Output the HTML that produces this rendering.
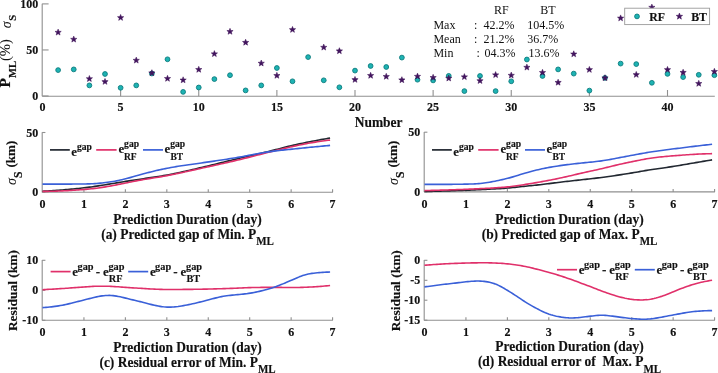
<!DOCTYPE html>
<html><head><meta charset="utf-8"><style>
html,body{margin:0;padding:0;background:#fff;width:718px;height:373px;overflow:hidden}
svg{display:block;filter:blur(0.35px)}
text{font-family:"Liberation Serif", serif;fill:#111;white-space:pre}
text[font-weight="bold"]{stroke:#111;stroke-width:0.15px}
</style></head><body>
<svg width="718" height="373" viewBox="0 0 718 373" xml:space="preserve">
<line x1="42.2" y1="3.8" x2="42.2" y2="96.2" stroke="#8f8f8f" stroke-width="1.1"/>
<line x1="42.2" y1="96.2" x2="714.8" y2="96.2" stroke="#8f8f8f" stroke-width="1.1"/>
<line x1="42.20" y1="96.00" x2="48.60" y2="96.00" stroke="#8f8f8f" stroke-width="1.1"/>
<text x="38.30" y="100.10" font-size="12" font-weight="bold" font-style="normal" text-anchor="end">0</text>
<line x1="42.20" y1="49.95" x2="48.60" y2="49.95" stroke="#8f8f8f" stroke-width="1.1"/>
<text x="38.30" y="54.05" font-size="12" font-weight="bold" font-style="normal" text-anchor="end">50</text>
<line x1="42.20" y1="3.90" x2="48.60" y2="3.90" stroke="#8f8f8f" stroke-width="1.1"/>
<text x="38.30" y="8.00" font-size="12" font-weight="bold" font-style="normal" text-anchor="end">100</text>
<text x="42.50" y="111.30" font-size="12" font-weight="bold" font-style="normal" text-anchor="middle">0</text>
<line x1="120.62" y1="96.20" x2="120.62" y2="90.00" stroke="#8f8f8f" stroke-width="1.1"/>
<text x="120.62" y="111.30" font-size="12" font-weight="bold" font-style="normal" text-anchor="middle">5</text>
<line x1="198.75" y1="96.20" x2="198.75" y2="90.00" stroke="#8f8f8f" stroke-width="1.1"/>
<text x="198.75" y="111.30" font-size="12" font-weight="bold" font-style="normal" text-anchor="middle">10</text>
<line x1="276.88" y1="96.20" x2="276.88" y2="90.00" stroke="#8f8f8f" stroke-width="1.1"/>
<text x="276.88" y="111.30" font-size="12" font-weight="bold" font-style="normal" text-anchor="middle">15</text>
<line x1="355.00" y1="96.20" x2="355.00" y2="90.00" stroke="#8f8f8f" stroke-width="1.1"/>
<text x="355.00" y="111.30" font-size="12" font-weight="bold" font-style="normal" text-anchor="middle">20</text>
<line x1="433.12" y1="96.20" x2="433.12" y2="90.00" stroke="#8f8f8f" stroke-width="1.1"/>
<text x="433.12" y="111.30" font-size="12" font-weight="bold" font-style="normal" text-anchor="middle">25</text>
<line x1="511.25" y1="96.20" x2="511.25" y2="90.00" stroke="#8f8f8f" stroke-width="1.1"/>
<text x="511.25" y="111.30" font-size="12" font-weight="bold" font-style="normal" text-anchor="middle">30</text>
<line x1="589.38" y1="96.20" x2="589.38" y2="90.00" stroke="#8f8f8f" stroke-width="1.1"/>
<text x="589.38" y="111.30" font-size="12" font-weight="bold" font-style="normal" text-anchor="middle">35</text>
<line x1="667.50" y1="96.20" x2="667.50" y2="90.00" stroke="#8f8f8f" stroke-width="1.1"/>
<text x="667.50" y="111.30" font-size="12" font-weight="bold" font-style="normal" text-anchor="middle">40</text>
<text transform="translate(378.6,126.9) scale(1,1.05)" font-size="13.45" font-weight="bold" text-anchor="middle">Number</text>
<circle cx="58.12" cy="70.10" r="2.4" fill="#1eb3b3" stroke="#0b7c7e" stroke-width="0.9"/>
<circle cx="73.75" cy="69.40" r="2.4" fill="#1eb3b3" stroke="#0b7c7e" stroke-width="0.9"/>
<circle cx="89.38" cy="85.40" r="2.4" fill="#1eb3b3" stroke="#0b7c7e" stroke-width="0.9"/>
<circle cx="105.00" cy="74.00" r="2.4" fill="#1eb3b3" stroke="#0b7c7e" stroke-width="0.9"/>
<circle cx="120.62" cy="87.80" r="2.4" fill="#1eb3b3" stroke="#0b7c7e" stroke-width="0.9"/>
<circle cx="136.25" cy="85.40" r="2.4" fill="#1eb3b3" stroke="#0b7c7e" stroke-width="0.9"/>
<circle cx="151.88" cy="73.50" r="2.4" fill="#1eb3b3" stroke="#0b7c7e" stroke-width="0.9"/>
<circle cx="167.50" cy="59.30" r="2.4" fill="#1eb3b3" stroke="#0b7c7e" stroke-width="0.9"/>
<circle cx="183.12" cy="91.90" r="2.4" fill="#1eb3b3" stroke="#0b7c7e" stroke-width="0.9"/>
<circle cx="198.75" cy="87.50" r="2.4" fill="#1eb3b3" stroke="#0b7c7e" stroke-width="0.9"/>
<circle cx="214.38" cy="79.10" r="2.4" fill="#1eb3b3" stroke="#0b7c7e" stroke-width="0.9"/>
<circle cx="230.00" cy="75.20" r="2.4" fill="#1eb3b3" stroke="#0b7c7e" stroke-width="0.9"/>
<circle cx="245.62" cy="90.40" r="2.4" fill="#1eb3b3" stroke="#0b7c7e" stroke-width="0.9"/>
<circle cx="261.25" cy="85.40" r="2.4" fill="#1eb3b3" stroke="#0b7c7e" stroke-width="0.9"/>
<circle cx="276.88" cy="68.00" r="2.4" fill="#1eb3b3" stroke="#0b7c7e" stroke-width="0.9"/>
<circle cx="292.50" cy="81.30" r="2.4" fill="#1eb3b3" stroke="#0b7c7e" stroke-width="0.9"/>
<circle cx="308.12" cy="57.10" r="2.4" fill="#1eb3b3" stroke="#0b7c7e" stroke-width="0.9"/>
<circle cx="323.75" cy="80.30" r="2.4" fill="#1eb3b3" stroke="#0b7c7e" stroke-width="0.9"/>
<circle cx="339.38" cy="87.30" r="2.4" fill="#1eb3b3" stroke="#0b7c7e" stroke-width="0.9"/>
<circle cx="355.00" cy="70.60" r="2.4" fill="#1eb3b3" stroke="#0b7c7e" stroke-width="0.9"/>
<circle cx="370.62" cy="66.00" r="2.4" fill="#1eb3b3" stroke="#0b7c7e" stroke-width="0.9"/>
<circle cx="386.25" cy="67.00" r="2.4" fill="#1eb3b3" stroke="#0b7c7e" stroke-width="0.9"/>
<circle cx="401.88" cy="57.60" r="2.4" fill="#1eb3b3" stroke="#0b7c7e" stroke-width="0.9"/>
<circle cx="417.50" cy="79.70" r="2.4" fill="#1eb3b3" stroke="#0b7c7e" stroke-width="0.9"/>
<circle cx="433.12" cy="80.40" r="2.4" fill="#1eb3b3" stroke="#0b7c7e" stroke-width="0.9"/>
<circle cx="448.75" cy="75.90" r="2.4" fill="#1eb3b3" stroke="#0b7c7e" stroke-width="0.9"/>
<circle cx="464.38" cy="91.10" r="2.4" fill="#1eb3b3" stroke="#0b7c7e" stroke-width="0.9"/>
<circle cx="480.00" cy="76.00" r="2.4" fill="#1eb3b3" stroke="#0b7c7e" stroke-width="0.9"/>
<circle cx="495.62" cy="91.10" r="2.4" fill="#1eb3b3" stroke="#0b7c7e" stroke-width="0.9"/>
<circle cx="511.25" cy="81.30" r="2.4" fill="#1eb3b3" stroke="#0b7c7e" stroke-width="0.9"/>
<circle cx="526.88" cy="59.50" r="2.4" fill="#1eb3b3" stroke="#0b7c7e" stroke-width="0.9"/>
<circle cx="542.50" cy="76.00" r="2.4" fill="#1eb3b3" stroke="#0b7c7e" stroke-width="0.9"/>
<circle cx="558.12" cy="69.40" r="2.4" fill="#1eb3b3" stroke="#0b7c7e" stroke-width="0.9"/>
<circle cx="573.75" cy="73.60" r="2.4" fill="#1eb3b3" stroke="#0b7c7e" stroke-width="0.9"/>
<circle cx="589.38" cy="90.60" r="2.4" fill="#1eb3b3" stroke="#0b7c7e" stroke-width="0.9"/>
<circle cx="605.00" cy="77.90" r="2.4" fill="#1eb3b3" stroke="#0b7c7e" stroke-width="0.9"/>
<circle cx="620.62" cy="63.60" r="2.4" fill="#1eb3b3" stroke="#0b7c7e" stroke-width="0.9"/>
<circle cx="636.25" cy="64.10" r="2.4" fill="#1eb3b3" stroke="#0b7c7e" stroke-width="0.9"/>
<circle cx="651.88" cy="82.80" r="2.4" fill="#1eb3b3" stroke="#0b7c7e" stroke-width="0.9"/>
<circle cx="667.50" cy="73.90" r="2.4" fill="#1eb3b3" stroke="#0b7c7e" stroke-width="0.9"/>
<circle cx="683.12" cy="77.10" r="2.4" fill="#1eb3b3" stroke="#0b7c7e" stroke-width="0.9"/>
<circle cx="698.75" cy="74.80" r="2.4" fill="#1eb3b3" stroke="#0b7c7e" stroke-width="0.9"/>
<circle cx="714.38" cy="75.20" r="2.4" fill="#1eb3b3" stroke="#0b7c7e" stroke-width="0.9"/>
<polygon points="58.12,29.10 58.96,31.25 61.26,31.38 59.48,32.84 60.06,35.07 58.12,33.82 56.19,35.07 56.77,32.84 54.99,31.38 57.29,31.25" fill="#43155f" stroke="#3a0e55" stroke-width="0.5"/>
<polygon points="73.75,36.10 74.58,38.25 76.89,38.38 75.10,39.84 75.69,42.07 73.75,40.82 71.81,42.07 72.40,39.84 70.61,38.38 72.92,38.25" fill="#43155f" stroke="#3a0e55" stroke-width="0.5"/>
<polygon points="89.38,75.50 90.21,77.65 92.51,77.78 90.73,79.24 91.31,81.47 89.38,80.22 87.44,81.47 88.02,79.24 86.24,77.78 88.54,77.65" fill="#43155f" stroke="#3a0e55" stroke-width="0.5"/>
<polygon points="105.00,78.40 105.83,80.55 108.14,80.68 106.35,82.14 106.94,84.37 105.00,83.12 103.06,84.37 103.65,82.14 101.86,80.68 104.17,80.55" fill="#43155f" stroke="#3a0e55" stroke-width="0.5"/>
<polygon points="120.62,14.40 121.46,16.55 123.76,16.68 121.98,18.14 122.56,20.37 120.62,19.12 118.69,20.37 119.27,18.14 117.49,16.68 119.79,16.55" fill="#43155f" stroke="#3a0e55" stroke-width="0.5"/>
<polygon points="136.25,57.10 137.08,59.25 139.39,59.38 137.60,60.84 138.19,63.07 136.25,61.82 134.31,63.07 134.90,60.84 133.11,59.38 135.42,59.25" fill="#43155f" stroke="#3a0e55" stroke-width="0.5"/>
<polygon points="151.88,69.70 152.71,71.85 155.01,71.98 153.23,73.44 153.81,75.67 151.88,74.42 149.94,75.67 150.52,73.44 148.74,71.98 151.04,71.85" fill="#43155f" stroke="#3a0e55" stroke-width="0.5"/>
<polygon points="167.50,75.30 168.33,77.45 170.64,77.58 168.85,79.04 169.44,81.27 167.50,80.02 165.56,81.27 166.15,79.04 164.36,77.58 166.67,77.45" fill="#43155f" stroke="#3a0e55" stroke-width="0.5"/>
<polygon points="183.12,76.80 183.96,78.95 186.26,79.08 184.48,80.54 185.06,82.77 183.12,81.52 181.19,82.77 181.77,80.54 179.99,79.08 182.29,78.95" fill="#43155f" stroke="#3a0e55" stroke-width="0.5"/>
<polygon points="198.75,66.30 199.58,68.45 201.89,68.58 200.10,70.04 200.69,72.27 198.75,71.02 196.81,72.27 197.40,70.04 195.61,68.58 197.92,68.45" fill="#43155f" stroke="#3a0e55" stroke-width="0.5"/>
<polygon points="214.38,50.60 215.21,52.75 217.51,52.88 215.73,54.34 216.31,56.57 214.38,55.32 212.44,56.57 213.02,54.34 211.24,52.88 213.54,52.75" fill="#43155f" stroke="#3a0e55" stroke-width="0.5"/>
<polygon points="230.00,28.30 230.83,30.45 233.14,30.58 231.35,32.04 231.94,34.27 230.00,33.02 228.06,34.27 228.65,32.04 226.86,30.58 229.17,30.45" fill="#43155f" stroke="#3a0e55" stroke-width="0.5"/>
<polygon points="245.62,39.20 246.46,41.35 248.76,41.48 246.98,42.94 247.56,45.17 245.62,43.92 243.69,45.17 244.27,42.94 242.49,41.48 244.79,41.35" fill="#43155f" stroke="#3a0e55" stroke-width="0.5"/>
<polygon points="261.25,60.00 262.08,62.15 264.39,62.28 262.60,63.74 263.19,65.97 261.25,64.72 259.31,65.97 259.90,63.74 258.11,62.28 260.42,62.15" fill="#43155f" stroke="#3a0e55" stroke-width="0.5"/>
<polygon points="276.88,72.30 277.71,74.45 280.01,74.58 278.23,76.04 278.81,78.27 276.88,77.02 274.94,78.27 275.52,76.04 273.74,74.58 276.04,74.45" fill="#43155f" stroke="#3a0e55" stroke-width="0.5"/>
<polygon points="292.50,26.40 293.33,28.55 295.64,28.68 293.85,30.14 294.44,32.37 292.50,31.12 290.56,32.37 291.15,30.14 289.36,28.68 291.67,28.55" fill="#43155f" stroke="#3a0e55" stroke-width="0.5"/>
<polygon points="323.75,44.10 324.58,46.25 326.89,46.38 325.10,47.84 325.69,50.07 323.75,48.82 321.81,50.07 322.40,47.84 320.61,46.38 322.92,46.25" fill="#43155f" stroke="#3a0e55" stroke-width="0.5"/>
<polygon points="339.38,47.70 340.21,49.85 342.51,49.98 340.73,51.44 341.31,53.67 339.38,52.42 337.44,53.67 338.02,51.44 336.24,49.98 338.54,49.85" fill="#43155f" stroke="#3a0e55" stroke-width="0.5"/>
<polygon points="355.00,76.40 355.83,78.55 358.14,78.68 356.35,80.14 356.94,82.37 355.00,81.12 353.06,82.37 353.65,80.14 351.86,78.68 354.17,78.55" fill="#43155f" stroke="#3a0e55" stroke-width="0.5"/>
<polygon points="370.62,72.30 371.46,74.45 373.76,74.58 371.98,76.04 372.56,78.27 370.62,77.02 368.69,78.27 369.27,76.04 367.49,74.58 369.79,74.45" fill="#43155f" stroke="#3a0e55" stroke-width="0.5"/>
<polygon points="386.25,73.30 387.08,75.45 389.39,75.58 387.60,77.04 388.19,79.27 386.25,78.02 384.31,79.27 384.90,77.04 383.11,75.58 385.42,75.45" fill="#43155f" stroke="#3a0e55" stroke-width="0.5"/>
<polygon points="401.88,76.70 402.71,78.85 405.01,78.98 403.23,80.44 403.81,82.67 401.88,81.42 399.94,82.67 400.52,80.44 398.74,78.98 401.04,78.85" fill="#43155f" stroke="#3a0e55" stroke-width="0.5"/>
<polygon points="417.50,73.10 418.33,75.25 420.64,75.38 418.85,76.84 419.44,79.07 417.50,77.82 415.56,79.07 416.15,76.84 414.36,75.38 416.67,75.25" fill="#43155f" stroke="#3a0e55" stroke-width="0.5"/>
<polygon points="433.12,74.30 433.96,76.45 436.26,76.58 434.48,78.04 435.06,80.27 433.12,79.02 431.19,80.27 431.77,78.04 429.99,76.58 432.29,76.45" fill="#43155f" stroke="#3a0e55" stroke-width="0.5"/>
<polygon points="448.75,75.00 449.58,77.15 451.89,77.28 450.10,78.74 450.69,80.97 448.75,79.72 446.81,80.97 447.40,78.74 445.61,77.28 447.92,77.15" fill="#43155f" stroke="#3a0e55" stroke-width="0.5"/>
<polygon points="464.38,73.60 465.21,75.75 467.51,75.88 465.73,77.34 466.31,79.57 464.38,78.32 462.44,79.57 463.02,77.34 461.24,75.88 463.54,75.75" fill="#43155f" stroke="#3a0e55" stroke-width="0.5"/>
<polygon points="480.00,77.50 480.83,79.65 483.14,79.78 481.35,81.24 481.94,83.47 480.00,82.22 478.06,83.47 478.65,81.24 476.86,79.78 479.17,79.65" fill="#43155f" stroke="#3a0e55" stroke-width="0.5"/>
<polygon points="495.62,71.60 496.46,73.75 498.76,73.88 496.98,75.34 497.56,77.57 495.62,76.32 493.69,77.57 494.27,75.34 492.49,73.88 494.79,73.75" fill="#43155f" stroke="#3a0e55" stroke-width="0.5"/>
<polygon points="511.25,72.10 512.08,74.25 514.39,74.38 512.60,75.84 513.19,78.07 511.25,76.82 509.31,78.07 509.90,75.84 508.11,74.38 510.42,74.25" fill="#43155f" stroke="#3a0e55" stroke-width="0.5"/>
<polygon points="526.88,64.10 527.71,66.25 530.01,66.38 528.23,67.84 528.81,70.07 526.88,68.82 524.94,70.07 525.52,67.84 523.74,66.38 526.04,66.25" fill="#43155f" stroke="#3a0e55" stroke-width="0.5"/>
<polygon points="542.50,69.30 543.33,71.45 545.64,71.58 543.85,73.04 544.44,75.27 542.50,74.02 540.56,75.27 541.15,73.04 539.36,71.58 541.67,71.45" fill="#43155f" stroke="#3a0e55" stroke-width="0.5"/>
<polygon points="558.12,79.20 558.96,81.35 561.26,81.48 559.48,82.94 560.06,85.17 558.12,83.92 556.19,85.17 556.77,82.94 554.99,81.48 557.29,81.35" fill="#43155f" stroke="#3a0e55" stroke-width="0.5"/>
<polygon points="573.75,50.80 574.58,52.95 576.89,53.08 575.10,54.54 575.69,56.77 573.75,55.52 571.81,56.77 572.40,54.54 570.61,53.08 572.92,52.95" fill="#43155f" stroke="#3a0e55" stroke-width="0.5"/>
<polygon points="589.38,66.40 590.21,68.55 592.51,68.68 590.73,70.14 591.31,72.37 589.38,71.12 587.44,72.37 588.02,70.14 586.24,68.68 588.54,68.55" fill="#43155f" stroke="#3a0e55" stroke-width="0.5"/>
<polygon points="605.00,74.70 605.83,76.85 608.14,76.98 606.35,78.44 606.94,80.67 605.00,79.42 603.06,80.67 603.65,78.44 601.86,76.98 604.17,76.85" fill="#43155f" stroke="#3a0e55" stroke-width="0.5"/>
<polygon points="620.62,14.90 621.46,17.05 623.76,17.18 621.98,18.64 622.56,20.87 620.62,19.62 618.69,20.87 619.27,18.64 617.49,17.18 619.79,17.05" fill="#43155f" stroke="#3a0e55" stroke-width="0.5"/>
<polygon points="636.25,71.40 637.08,73.55 639.39,73.68 637.60,75.14 638.19,77.37 636.25,76.12 634.31,77.37 634.90,75.14 633.11,73.68 635.42,73.55" fill="#43155f" stroke="#3a0e55" stroke-width="0.5"/>
<polygon points="651.88,4.10 652.71,6.25 655.01,6.38 653.23,7.84 653.81,10.07 651.88,8.82 649.94,10.07 650.52,7.84 648.74,6.38 651.04,6.25" fill="#43155f" stroke="#3a0e55" stroke-width="0.5"/>
<polygon points="667.50,66.40 668.33,68.55 670.64,68.68 668.85,70.14 669.44,72.37 667.50,71.12 665.56,72.37 666.15,70.14 664.36,68.68 666.67,68.55" fill="#43155f" stroke="#3a0e55" stroke-width="0.5"/>
<polygon points="683.12,69.20 683.96,71.35 686.26,71.48 684.48,72.94 685.06,75.17 683.12,73.92 681.19,75.17 681.77,72.94 679.99,71.48 682.29,71.35" fill="#43155f" stroke="#3a0e55" stroke-width="0.5"/>
<polygon points="698.75,80.30 699.58,82.45 701.89,82.58 700.10,84.04 700.69,86.27 698.75,85.02 696.81,86.27 697.40,84.04 695.61,82.58 697.92,82.45" fill="#43155f" stroke="#3a0e55" stroke-width="0.5"/>
<polygon points="714.38,68.30 715.21,70.45 717.51,70.58 715.73,72.04 716.31,74.27 714.38,73.02 712.44,74.27 713.02,72.04 711.24,70.58 713.54,70.45" fill="#43155f" stroke="#3a0e55" stroke-width="0.5"/>
<rect x="624.7" y="8.2" width="84.9" height="16.4" fill="#fff" stroke="#9a9a9a" stroke-width="0.9"/>
<circle cx="637" cy="16.4" r="2.4" fill="#1eb3b3" stroke="#0b7c7e" stroke-width="0.9"/>
<text x="649.30" y="20.60" font-size="11.8" font-weight="bold" font-style="normal" text-anchor="start">RF</text>
<polygon points="679.40,13.00 680.25,15.23 682.63,15.35 680.78,16.85 681.40,19.15 679.40,17.85 677.40,19.15 678.02,16.85 676.17,15.35 678.55,15.23" fill="#43155f" stroke="#3a0e55" stroke-width="0.5"/>
<text x="691.20" y="20.60" font-size="11.8" font-weight="bold" font-style="normal" text-anchor="start">BT</text>
<text x="494.00" y="14.40" font-size="12" font-weight="normal" font-style="normal" text-anchor="start">RF</text>
<text x="540.30" y="14.40" font-size="12" font-weight="normal" font-style="normal" text-anchor="start">BT</text>
<text x="433.40" y="28.90" font-size="12" font-weight="normal" font-style="normal" text-anchor="start">Max</text>
<text x="474.00" y="28.90" font-size="12" font-weight="normal" font-style="normal" text-anchor="start">:</text>
<text x="483.50" y="28.90" font-size="12" font-weight="normal" font-style="normal" text-anchor="start">42.2%</text>
<text x="527.20" y="28.90" font-size="12" font-weight="normal" font-style="normal" text-anchor="start">104.5%</text>
<text x="433.40" y="42.80" font-size="12" font-weight="normal" font-style="normal" text-anchor="start">Mean</text>
<text x="474.00" y="42.80" font-size="12" font-weight="normal" font-style="normal" text-anchor="start">:</text>
<text x="483.50" y="42.80" font-size="12" font-weight="normal" font-style="normal" text-anchor="start">21.2%</text>
<text x="527.20" y="42.80" font-size="12" font-weight="normal" font-style="normal" text-anchor="start">36.7%</text>
<text x="433.40" y="56.70" font-size="12" font-weight="normal" font-style="normal" text-anchor="start">Min</text>
<text x="476.50" y="56.70" font-size="12" font-weight="normal" font-style="normal" text-anchor="start">:</text>
<text x="484.40" y="56.70" font-size="12" font-weight="normal" font-style="normal" text-anchor="start">04.3%</text>
<text x="528.60" y="56.70" font-size="12" font-weight="normal" font-style="normal" text-anchor="start">13.6%</text>
<text transform="translate(9.90,87.40) rotate(-90)" font-size="15.3" font-weight="bold" font-style="normal" text-anchor="start">P</text>
<text transform="translate(15.90,78.10) rotate(-90)" font-size="10.6" font-weight="bold" font-style="normal" text-anchor="start">ML</text>
<text transform="translate(9.60,61.00) rotate(-90)" font-size="14.6" font-weight="normal" font-style="normal" text-anchor="start">(%)</text>
<text transform="translate(10.80,28.20) rotate(-90)" font-size="14" font-weight="normal" font-style="italic" text-anchor="start">σ</text>
<text transform="translate(16.20,20.80) rotate(-90)" font-size="10.5" font-weight="bold" font-style="normal" text-anchor="start">S</text>
<line x1="42.20" y1="132.20" x2="42.20" y2="192.50" stroke="#8f8f8f" stroke-width="1.1"/>
<line x1="42.20" y1="192.30" x2="332.88" y2="192.30" stroke="#8f8f8f" stroke-width="1.1"/>
<line x1="42.20" y1="132.50" x2="45.40" y2="132.50" stroke="#8f8f8f" stroke-width="1.1"/>
<text x="38.20" y="136.60" font-size="12" font-weight="bold" font-style="normal" text-anchor="end">50</text>
<line x1="42.20" y1="192.30" x2="45.40" y2="192.30" stroke="#8f8f8f" stroke-width="1.1"/>
<text x="38.20" y="196.40" font-size="12" font-weight="bold" font-style="normal" text-anchor="end">0</text>
<text x="42.50" y="207.60" font-size="12" font-weight="bold" font-style="normal" text-anchor="middle">0</text>
<line x1="83.94" y1="192.30" x2="83.94" y2="189.30" stroke="#8f8f8f" stroke-width="1.1"/>
<text x="83.94" y="207.60" font-size="12" font-weight="bold" font-style="normal" text-anchor="middle">1</text>
<line x1="125.38" y1="192.30" x2="125.38" y2="189.30" stroke="#8f8f8f" stroke-width="1.1"/>
<text x="125.38" y="207.60" font-size="12" font-weight="bold" font-style="normal" text-anchor="middle">2</text>
<line x1="166.82" y1="192.30" x2="166.82" y2="189.30" stroke="#8f8f8f" stroke-width="1.1"/>
<text x="166.82" y="207.60" font-size="12" font-weight="bold" font-style="normal" text-anchor="middle">3</text>
<line x1="208.26" y1="192.30" x2="208.26" y2="189.30" stroke="#8f8f8f" stroke-width="1.1"/>
<text x="208.26" y="207.60" font-size="12" font-weight="bold" font-style="normal" text-anchor="middle">4</text>
<line x1="249.70" y1="192.30" x2="249.70" y2="189.30" stroke="#8f8f8f" stroke-width="1.1"/>
<text x="249.70" y="207.60" font-size="12" font-weight="bold" font-style="normal" text-anchor="middle">5</text>
<line x1="291.14" y1="192.30" x2="291.14" y2="189.30" stroke="#8f8f8f" stroke-width="1.1"/>
<text x="291.14" y="207.60" font-size="12" font-weight="bold" font-style="normal" text-anchor="middle">6</text>
<line x1="332.58" y1="192.30" x2="332.58" y2="189.30" stroke="#8f8f8f" stroke-width="1.1"/>
<text x="332.58" y="207.60" font-size="12" font-weight="bold" font-style="normal" text-anchor="middle">7</text>
<text transform="translate(187.54,223.50) scale(1,1.05)" font-size="13.45" font-weight="bold" text-anchor="middle">Prediction Duration (day)</text>
<text transform="translate(187.54,238.50) scale(1,1.05)" font-size="13.45" font-weight="bold" text-anchor="middle">(a) Predicted gap of Min. P<tspan font-size="11" dy="6.0">ML</tspan></text>
<polyline points="42.50,191.18 44.23,191.10 45.95,191.02 47.68,190.94 49.70,190.83 51.42,190.73 53.15,190.62 54.88,190.51 56.89,190.37 58.62,190.25 60.35,190.12 62.36,189.96 64.09,189.81 65.82,189.66 67.55,189.51 69.56,189.32 71.29,189.16 73.02,188.99 75.03,188.79 76.76,188.61 78.49,188.43 80.21,188.24 82.23,188.01 83.95,187.81 85.68,187.61 87.70,187.36 89.42,187.14 91.15,186.92 92.88,186.68 94.89,186.39 96.62,186.14 98.35,185.88 100.36,185.56 102.09,185.28 103.82,185.00 105.55,184.72 107.56,184.38 109.29,184.09 111.02,183.80 113.03,183.46 114.76,183.17 116.49,182.89 118.21,182.61 120.23,182.28 121.96,182.00 123.68,181.72 125.70,181.40 127.43,181.13 129.15,180.86 130.88,180.59 132.89,180.28 134.62,180.02 136.35,179.76 138.36,179.45 140.09,179.20 141.82,178.94 143.55,178.69 145.56,178.40 147.29,178.14 149.02,177.89 150.74,177.64 152.76,177.34 154.49,177.08 156.21,176.82 158.23,176.51 159.96,176.24 161.68,175.95 163.41,175.66 165.43,175.31 167.15,175.00 168.88,174.69 170.90,174.30 172.62,173.96 174.35,173.61 176.08,173.25 178.09,172.83 179.82,172.45 181.55,172.07 183.56,171.63 185.29,171.24 187.02,170.85 188.74,170.45 190.76,169.99 192.49,169.59 194.21,169.19 196.23,168.72 197.96,168.31 199.68,167.90 201.41,167.49 203.43,167.01 205.15,166.60 206.88,166.18 208.90,165.69 210.62,165.27 212.35,164.85 214.08,164.43 216.09,163.94 217.82,163.52 219.55,163.10 221.56,162.60 223.29,162.18 225.02,161.76 226.74,161.34 228.76,160.85 230.49,160.43 232.21,160.02 234.23,159.53 235.96,159.12 237.68,158.71 239.41,158.31 241.43,157.83 243.15,157.43 244.88,157.03 246.61,156.63 248.62,156.17 250.35,155.77 252.08,155.37 254.09,154.91 255.82,154.51 257.55,154.11 259.27,153.71 261.29,153.23 263.02,152.82 264.74,152.40 266.76,151.91 268.49,151.48 270.21,151.04 271.94,150.60 273.96,150.08 275.68,149.64 277.41,149.19 279.43,148.66 281.15,148.21 282.88,147.77 284.61,147.33 286.62,146.82 288.35,146.40 290.08,145.98 292.09,145.50 293.82,145.10 295.55,144.71 297.28,144.33 299.29,143.90 301.02,143.53 302.74,143.17 304.76,142.75 306.49,142.40 308.21,142.06 309.94,141.72 311.96,141.33 313.68,141.00 315.41,140.67 317.43,140.29 319.15,139.97 320.88,139.66 322.61,139.34 324.62,138.98 326.35,138.68 328.08,138.37 330.09,138.02" fill="none" stroke="#222831" stroke-width="1.6" stroke-linejoin="round" stroke-linecap="butt"/>
<polyline points="42.50,191.42 44.23,191.40 45.95,191.38 47.68,191.35 49.70,191.31 51.42,191.27 53.15,191.23 54.88,191.18 56.89,191.11 58.62,191.04 60.35,190.97 62.36,190.88 64.09,190.80 65.82,190.71 67.55,190.62 69.56,190.50 71.29,190.40 73.02,190.29 75.03,190.16 76.76,190.04 78.49,189.92 80.21,189.79 82.23,189.64 83.95,189.50 85.68,189.35 87.70,189.17 89.42,189.00 91.15,188.82 92.88,188.63 94.89,188.40 96.62,188.18 98.35,187.95 100.36,187.66 102.09,187.40 103.82,187.13 105.55,186.85 107.56,186.51 109.29,186.21 111.02,185.90 113.03,185.53 114.76,185.21 116.49,184.87 118.21,184.54 120.23,184.13 121.96,183.78 123.68,183.43 125.70,183.01 127.43,182.66 129.15,182.30 130.88,181.95 132.89,181.54 134.62,181.20 136.35,180.87 138.36,180.49 140.09,180.18 141.82,179.87 143.55,179.57 145.56,179.23 147.29,178.95 149.02,178.66 150.74,178.39 152.76,178.06 154.49,177.79 156.21,177.51 158.23,177.18 159.96,176.89 161.68,176.59 163.41,176.29 165.43,175.93 167.15,175.61 168.88,175.28 170.90,174.89 172.62,174.54 174.35,174.19 176.08,173.83 178.09,173.40 179.82,173.03 181.55,172.66 183.56,172.21 185.29,171.83 187.02,171.45 188.74,171.07 190.76,170.63 192.49,170.24 194.21,169.86 196.23,169.42 197.96,169.04 199.68,168.66 201.41,168.28 203.43,167.84 205.15,167.46 206.88,167.08 208.90,166.64 210.62,166.26 212.35,165.87 214.08,165.49 216.09,165.04 217.82,164.66 219.55,164.27 221.56,163.82 223.29,163.43 225.02,163.04 226.74,162.64 228.76,162.18 230.49,161.78 232.21,161.38 234.23,160.90 235.96,160.49 237.68,160.08 239.41,159.66 241.43,159.17 243.15,158.75 244.88,158.32 246.61,157.89 248.62,157.38 250.35,156.95 252.08,156.51 254.09,155.99 255.82,155.55 257.55,155.10 259.27,154.66 261.29,154.14 263.02,153.70 264.74,153.26 266.76,152.75 268.49,152.31 270.21,151.88 271.94,151.45 273.96,150.95 275.68,150.52 277.41,150.10 279.43,149.61 281.15,149.19 282.88,148.78 284.61,148.37 286.62,147.89 288.35,147.49 290.08,147.09 292.09,146.64 293.82,146.25 295.55,145.87 297.28,145.50 299.29,145.07 301.02,144.71 302.74,144.36 304.76,143.97 306.49,143.64 308.21,143.32 309.94,143.01 311.96,142.66 313.68,142.37 315.41,142.10 317.43,141.78 319.15,141.53 320.88,141.28 322.61,141.04 324.62,140.77 326.35,140.55 328.08,140.33 330.09,140.09" fill="none" stroke="#e0306a" stroke-width="1.6" stroke-linejoin="round" stroke-linecap="butt"/>
<polyline points="42.50,184.17 44.23,184.16 45.95,184.16 47.68,184.16 49.70,184.16 51.42,184.16 53.15,184.15 54.88,184.15 56.89,184.14 58.62,184.14 60.35,184.13 62.36,184.12 64.09,184.12 65.82,184.11 67.55,184.10 69.56,184.09 71.29,184.08 73.02,184.07 75.03,184.05 76.76,184.04 78.49,184.03 80.21,184.01 82.23,183.99 83.95,183.96 85.68,183.93 87.70,183.89 89.42,183.84 91.15,183.78 92.88,183.70 94.89,183.59 96.62,183.47 98.35,183.33 100.36,183.15 102.09,182.98 103.82,182.78 105.55,182.57 107.56,182.31 109.29,182.06 111.02,181.80 113.03,181.48 114.76,181.18 116.49,180.86 118.21,180.52 120.23,180.09 121.96,179.70 123.68,179.29 125.70,178.79 127.43,178.33 129.15,177.87 130.88,177.39 132.89,176.83 134.62,176.34 136.35,175.85 138.36,175.29 140.09,174.80 141.82,174.32 143.55,173.84 145.56,173.29 147.29,172.82 149.02,172.37 150.74,171.92 152.76,171.41 154.49,170.99 156.21,170.59 158.23,170.13 159.96,169.75 161.68,169.38 163.41,169.02 165.43,168.61 167.15,168.26 168.88,167.93 170.90,167.54 172.62,167.23 174.35,166.92 176.08,166.62 178.09,166.28 179.82,166.01 181.55,165.74 183.56,165.44 185.29,165.20 187.02,164.95 188.74,164.71 190.76,164.43 192.49,164.19 194.21,163.95 196.23,163.67 197.96,163.43 199.68,163.19 201.41,162.94 203.43,162.65 205.15,162.41 206.88,162.16 208.90,161.86 210.62,161.61 212.35,161.36 214.08,161.10 216.09,160.80 217.82,160.54 219.55,160.28 221.56,159.97 223.29,159.71 225.02,159.44 226.74,159.17 228.76,158.85 230.49,158.58 232.21,158.30 234.23,157.97 235.96,157.68 237.68,157.39 239.41,157.09 241.43,156.74 243.15,156.43 244.88,156.11 246.61,155.79 248.62,155.40 250.35,155.07 252.08,154.74 254.09,154.35 255.82,154.02 257.55,153.69 259.27,153.37 261.29,153.01 263.02,152.71 264.74,152.42 266.76,152.10 268.49,151.85 270.21,151.60 271.94,151.37 273.96,151.11 275.68,150.90 277.41,150.70 279.43,150.47 281.15,150.28 282.88,150.09 284.61,149.91 286.62,149.70 288.35,149.52 290.08,149.34 292.09,149.13 293.82,148.95 295.55,148.78 297.28,148.60 299.29,148.39 301.02,148.22 302.74,148.04 304.76,147.84 306.49,147.67 308.21,147.49 309.94,147.32 311.96,147.13 313.68,146.96 315.41,146.79 317.43,146.60 319.15,146.44 320.88,146.27 322.61,146.11 324.62,145.92 326.35,145.76 328.08,145.61 330.09,145.42" fill="none" stroke="#3a60d8" stroke-width="1.6" stroke-linejoin="round" stroke-linecap="butt"/>
<line x1="50.00" y1="149.90" x2="69.80" y2="149.90" stroke="#222831" stroke-width="1.7"/>
<text x="71.30" y="155.80" font-size="12.8" font-weight="bold" font-style="normal" text-anchor="start">e</text>
<text x="76.90" y="150.20" font-size="9.6" font-weight="bold" font-style="normal" text-anchor="start">gap</text>
<line x1="96.20" y1="149.90" x2="116.60" y2="149.90" stroke="#e0306a" stroke-width="1.7"/>
<text x="118.60" y="152.90" font-size="12.8" font-weight="bold" font-style="normal" text-anchor="start">e</text>
<text x="124.10" y="146.90" font-size="9.6" font-weight="bold" font-style="normal" text-anchor="start">gap</text>
<text x="124.00" y="159.60" font-size="9.5" font-weight="bold" font-style="normal" text-anchor="start">RF</text>
<line x1="143.00" y1="149.90" x2="163.00" y2="149.90" stroke="#3a60d8" stroke-width="1.7"/>
<text x="164.60" y="152.90" font-size="12.8" font-weight="bold" font-style="normal" text-anchor="start">e</text>
<text x="170.20" y="146.90" font-size="9.6" font-weight="bold" font-style="normal" text-anchor="start">gap</text>
<text x="170.50" y="159.80" font-size="9.5" font-weight="bold" font-style="normal" text-anchor="start">BT</text>
<text transform="translate(15.90,184.90) rotate(-90)" font-size="14" font-weight="normal" font-style="italic" text-anchor="start">σ</text>
<text transform="translate(22.30,178.00) rotate(-90)" font-size="11.5" font-weight="bold" font-style="normal" text-anchor="start">S</text>
<text transform="translate(15.30,167.60) rotate(-90)" font-size="13.1" font-weight="bold" font-style="normal" text-anchor="start">(km)</text>
<line x1="424.20" y1="131.90" x2="424.20" y2="192.10" stroke="#8f8f8f" stroke-width="1.1"/>
<line x1="424.20" y1="191.90" x2="714.88" y2="191.90" stroke="#8f8f8f" stroke-width="1.1"/>
<line x1="424.20" y1="132.20" x2="427.40" y2="132.20" stroke="#8f8f8f" stroke-width="1.1"/>
<text x="420.20" y="136.30" font-size="12" font-weight="bold" font-style="normal" text-anchor="end">50</text>
<line x1="424.20" y1="191.90" x2="427.40" y2="191.90" stroke="#8f8f8f" stroke-width="1.1"/>
<text x="420.20" y="196.00" font-size="12" font-weight="bold" font-style="normal" text-anchor="end">0</text>
<text x="424.50" y="207.60" font-size="12" font-weight="bold" font-style="normal" text-anchor="middle">0</text>
<line x1="465.94" y1="191.90" x2="465.94" y2="188.90" stroke="#8f8f8f" stroke-width="1.1"/>
<text x="465.94" y="207.60" font-size="12" font-weight="bold" font-style="normal" text-anchor="middle">1</text>
<line x1="507.38" y1="191.90" x2="507.38" y2="188.90" stroke="#8f8f8f" stroke-width="1.1"/>
<text x="507.38" y="207.60" font-size="12" font-weight="bold" font-style="normal" text-anchor="middle">2</text>
<line x1="548.82" y1="191.90" x2="548.82" y2="188.90" stroke="#8f8f8f" stroke-width="1.1"/>
<text x="548.82" y="207.60" font-size="12" font-weight="bold" font-style="normal" text-anchor="middle">3</text>
<line x1="590.26" y1="191.90" x2="590.26" y2="188.90" stroke="#8f8f8f" stroke-width="1.1"/>
<text x="590.26" y="207.60" font-size="12" font-weight="bold" font-style="normal" text-anchor="middle">4</text>
<line x1="631.70" y1="191.90" x2="631.70" y2="188.90" stroke="#8f8f8f" stroke-width="1.1"/>
<text x="631.70" y="207.60" font-size="12" font-weight="bold" font-style="normal" text-anchor="middle">5</text>
<line x1="673.14" y1="191.90" x2="673.14" y2="188.90" stroke="#8f8f8f" stroke-width="1.1"/>
<text x="673.14" y="207.60" font-size="12" font-weight="bold" font-style="normal" text-anchor="middle">6</text>
<line x1="714.58" y1="191.90" x2="714.58" y2="188.90" stroke="#8f8f8f" stroke-width="1.1"/>
<text x="714.58" y="207.60" font-size="12" font-weight="bold" font-style="normal" text-anchor="middle">7</text>
<text transform="translate(569.54,223.50) scale(1,1.05)" font-size="13.45" font-weight="bold" text-anchor="middle">Prediction Duration (day)</text>
<text transform="translate(569.54,238.50) scale(1,1.05)" font-size="13.45" font-weight="bold" text-anchor="middle">(b) Predicted gap of Max. P<tspan font-size="11" dy="6.0">ML</tspan></text>
<polyline points="424.50,191.54 426.23,191.50 427.95,191.46 429.68,191.41 431.70,191.36 433.42,191.32 435.15,191.27 436.88,191.22 438.89,191.16 440.62,191.11 442.35,191.06 444.36,191.00 446.09,190.94 447.82,190.89 449.55,190.83 451.56,190.76 453.29,190.70 455.02,190.64 457.03,190.57 458.76,190.51 460.49,190.45 462.21,190.38 464.23,190.30 465.95,190.24 467.68,190.17 469.70,190.08 471.42,190.01 473.15,189.94 474.88,189.86 476.89,189.77 478.62,189.69 480.35,189.61 482.36,189.51 484.09,189.43 485.82,189.34 487.55,189.26 489.56,189.15 491.29,189.07 493.02,188.98 495.03,188.87 496.76,188.78 498.49,188.68 500.21,188.58 502.23,188.46 503.96,188.34 505.68,188.22 507.70,188.06 509.43,187.91 511.15,187.75 512.88,187.57 514.89,187.35 516.62,187.16 518.35,186.96 520.36,186.74 522.09,186.55 523.82,186.36 525.55,186.18 527.56,185.98 529.29,185.81 531.02,185.64 532.74,185.47 534.76,185.26 536.49,185.09 538.21,184.90 540.23,184.68 541.96,184.48 543.68,184.28 545.41,184.07 547.43,183.82 549.15,183.60 550.88,183.38 552.90,183.12 554.62,182.90 556.35,182.68 558.08,182.47 560.09,182.22 561.82,182.01 563.55,181.81 565.56,181.57 567.29,181.37 569.02,181.17 570.74,180.97 572.76,180.75 574.49,180.55 576.21,180.36 578.23,180.13 579.96,179.94 581.68,179.74 583.41,179.55 585.43,179.33 587.15,179.14 588.88,178.95 590.90,178.72 592.62,178.52 594.35,178.33 596.08,178.12 598.09,177.88 599.82,177.67 601.55,177.45 603.56,177.19 605.29,176.96 607.02,176.73 608.74,176.49 610.76,176.21 612.49,175.96 614.21,175.71 616.23,175.41 617.96,175.16 619.68,174.90 621.41,174.63 623.43,174.32 625.15,174.05 626.88,173.77 628.61,173.49 630.62,173.16 632.35,172.87 634.08,172.58 636.09,172.23 637.82,171.93 639.55,171.63 641.27,171.32 643.29,170.96 645.02,170.66 646.74,170.37 648.76,170.04 650.49,169.77 652.21,169.51 653.94,169.26 655.96,168.97 657.68,168.73 659.41,168.49 661.43,168.21 663.15,167.96 664.88,167.70 666.61,167.44 668.62,167.13 670.35,166.86 672.08,166.59 674.09,166.26 675.82,165.99 677.55,165.70 679.28,165.42 681.29,165.09 683.02,164.80 684.74,164.51 686.76,164.17 688.49,163.87 690.21,163.58 691.94,163.28 693.96,162.93 695.68,162.64 697.41,162.34 699.43,162.00 701.15,161.70 702.88,161.41 704.61,161.11 706.62,160.77 708.35,160.48 710.08,160.19 712.09,159.85" fill="none" stroke="#222831" stroke-width="1.6" stroke-linejoin="round" stroke-linecap="butt"/>
<polyline points="424.50,190.58 426.23,190.54 427.95,190.50 429.68,190.46 431.70,190.40 433.42,190.36 435.15,190.31 436.88,190.26 438.89,190.21 440.62,190.15 442.35,190.10 444.36,190.04 446.09,189.99 447.82,189.93 449.55,189.87 451.56,189.81 453.29,189.75 455.02,189.69 457.03,189.62 458.76,189.55 460.49,189.49 462.21,189.43 464.23,189.35 465.95,189.29 467.68,189.22 469.70,189.14 471.42,189.07 473.15,188.99 474.88,188.92 476.89,188.83 478.62,188.75 480.35,188.67 482.36,188.57 484.09,188.49 485.82,188.40 487.55,188.31 489.56,188.20 491.29,188.10 493.02,188.00 495.03,187.88 496.76,187.77 498.49,187.66 500.21,187.54 502.23,187.38 503.96,187.24 505.68,187.09 507.70,186.90 509.43,186.72 511.15,186.52 512.88,186.31 514.89,186.04 516.62,185.79 518.35,185.54 520.36,185.23 522.09,184.96 523.82,184.69 525.55,184.41 527.56,184.09 529.29,183.81 531.02,183.52 532.74,183.23 534.76,182.89 536.49,182.59 538.21,182.29 540.23,181.94 541.96,181.63 543.68,181.32 545.41,181.00 547.43,180.62 549.15,180.30 550.88,179.96 552.90,179.57 554.62,179.23 556.35,178.88 558.08,178.52 560.09,178.09 561.82,177.71 563.55,177.33 565.56,176.87 567.29,176.47 569.02,176.06 570.74,175.66 572.76,175.18 574.49,174.77 576.21,174.36 578.23,173.89 579.96,173.49 581.68,173.10 583.41,172.71 585.43,172.27 587.15,171.89 588.88,171.51 590.90,171.06 592.62,170.68 594.35,170.30 596.08,169.92 598.09,169.47 599.82,169.07 601.55,168.67 603.56,168.20 605.29,167.79 607.02,167.37 608.74,166.95 610.76,166.47 612.49,166.05 614.21,165.63 616.23,165.14 617.96,164.73 619.68,164.33 621.41,163.93 623.43,163.48 625.15,163.10 626.88,162.73 628.61,162.36 630.62,161.95 632.35,161.60 634.08,161.25 636.09,160.85 637.82,160.51 639.55,160.17 641.27,159.83 643.29,159.44 645.02,159.12 646.74,158.80 648.76,158.46 650.49,158.19 652.21,157.94 653.94,157.70 655.96,157.45 657.68,157.25 659.41,157.06 661.43,156.85 663.15,156.68 664.88,156.52 666.61,156.37 668.62,156.19 670.35,156.04 672.08,155.90 674.09,155.74 675.82,155.61 677.55,155.47 679.28,155.34 681.29,155.19 683.02,155.07 684.74,154.94 686.76,154.80 688.49,154.68 690.21,154.56 691.94,154.45 693.96,154.33 695.68,154.23 697.41,154.14 699.43,154.05 701.15,153.97 702.88,153.90 704.61,153.84 706.62,153.78 708.35,153.73 710.08,153.69 712.09,153.64" fill="none" stroke="#e0306a" stroke-width="1.6" stroke-linejoin="round" stroke-linecap="butt"/>
<polyline points="424.50,184.37 426.23,184.37 427.95,184.37 429.68,184.37 431.70,184.37 433.42,184.37 435.15,184.37 436.88,184.37 438.89,184.36 440.62,184.36 442.35,184.36 444.36,184.36 446.09,184.36 447.82,184.35 449.55,184.35 451.56,184.33 453.29,184.32 455.02,184.30 457.03,184.28 458.76,184.26 460.49,184.23 462.21,184.21 464.23,184.17 465.95,184.14 467.68,184.10 469.70,184.05 471.42,184.00 473.15,183.93 474.88,183.85 476.89,183.73 478.62,183.60 480.35,183.45 482.36,183.23 484.09,183.02 485.82,182.79 487.55,182.53 489.56,182.20 491.29,181.90 493.02,181.58 495.03,181.19 496.76,180.83 498.49,180.47 500.21,180.09 502.23,179.64 503.96,179.24 505.68,178.83 507.70,178.33 509.43,177.87 511.15,177.39 512.88,176.88 514.89,176.27 516.62,175.73 518.35,175.19 520.36,174.57 522.09,174.04 523.82,173.52 525.55,173.02 527.56,172.44 529.29,171.95 531.02,171.48 532.74,171.03 534.76,170.51 536.49,170.08 538.21,169.68 540.23,169.22 541.96,168.84 543.68,168.48 545.41,168.13 547.43,167.74 549.15,167.41 550.88,167.10 552.90,166.75 554.62,166.46 556.35,166.18 558.08,165.92 560.09,165.62 561.82,165.37 563.55,165.14 565.56,164.87 567.29,164.65 569.02,164.44 570.74,164.23 572.76,164.00 574.49,163.80 576.21,163.61 578.23,163.39 579.96,163.21 581.68,163.03 583.41,162.86 585.43,162.66 587.15,162.49 588.88,162.32 590.90,162.12 592.62,161.95 594.35,161.76 596.08,161.57 598.09,161.33 599.82,161.11 601.55,160.88 603.56,160.58 605.29,160.31 607.02,160.02 608.74,159.73 610.76,159.36 612.49,159.04 614.21,158.71 616.23,158.33 617.96,157.99 619.68,157.66 621.41,157.32 623.43,156.94 625.15,156.61 626.88,156.28 628.61,155.96 630.62,155.58 632.35,155.25 634.08,154.93 636.09,154.55 637.82,154.23 639.55,153.91 641.27,153.59 643.29,153.23 645.02,152.93 646.74,152.63 648.76,152.30 650.49,152.03 652.21,151.76 653.94,151.50 655.96,151.20 657.68,150.96 659.41,150.72 661.43,150.45 663.15,150.22 664.88,149.99 666.61,149.77 668.62,149.51 670.35,149.30 672.08,149.08 674.09,148.83 675.82,148.61 677.55,148.40 679.28,148.18 681.29,147.93 683.02,147.72 684.74,147.50 686.76,147.25 688.49,147.03 690.21,146.82 691.94,146.60 693.96,146.36 695.68,146.15 697.41,145.94 699.43,145.70 701.15,145.50 702.88,145.31 704.61,145.11 706.62,144.89 708.35,144.70 710.08,144.52 712.09,144.30" fill="none" stroke="#3a60d8" stroke-width="1.6" stroke-linejoin="round" stroke-linecap="butt"/>
<line x1="432.00" y1="149.90" x2="451.80" y2="149.90" stroke="#222831" stroke-width="1.7"/>
<text x="453.30" y="155.80" font-size="12.8" font-weight="bold" font-style="normal" text-anchor="start">e</text>
<text x="458.90" y="150.20" font-size="9.6" font-weight="bold" font-style="normal" text-anchor="start">gap</text>
<line x1="478.20" y1="149.90" x2="498.60" y2="149.90" stroke="#e0306a" stroke-width="1.7"/>
<text x="500.60" y="152.90" font-size="12.8" font-weight="bold" font-style="normal" text-anchor="start">e</text>
<text x="506.10" y="146.90" font-size="9.6" font-weight="bold" font-style="normal" text-anchor="start">gap</text>
<text x="506.00" y="159.60" font-size="9.5" font-weight="bold" font-style="normal" text-anchor="start">RF</text>
<line x1="525.00" y1="149.90" x2="545.00" y2="149.90" stroke="#3a60d8" stroke-width="1.7"/>
<text x="546.60" y="152.90" font-size="12.8" font-weight="bold" font-style="normal" text-anchor="start">e</text>
<text x="552.20" y="146.90" font-size="9.6" font-weight="bold" font-style="normal" text-anchor="start">gap</text>
<text x="552.50" y="159.80" font-size="9.5" font-weight="bold" font-style="normal" text-anchor="start">BT</text>
<text transform="translate(397.90,184.90) rotate(-90)" font-size="14" font-weight="normal" font-style="italic" text-anchor="start">σ</text>
<text transform="translate(404.30,178.00) rotate(-90)" font-size="11.5" font-weight="bold" font-style="normal" text-anchor="start">S</text>
<text transform="translate(397.30,167.60) rotate(-90)" font-size="13.1" font-weight="bold" font-style="normal" text-anchor="start">(km)</text>
<line x1="42.20" y1="260.00" x2="42.20" y2="320.50" stroke="#8f8f8f" stroke-width="1.1"/>
<line x1="42.20" y1="320.30" x2="332.88" y2="320.30" stroke="#8f8f8f" stroke-width="1.1"/>
<line x1="42.20" y1="260.30" x2="45.40" y2="260.30" stroke="#8f8f8f" stroke-width="1.1"/>
<text x="38.20" y="264.40" font-size="12" font-weight="bold" font-style="normal" text-anchor="end">10</text>
<line x1="42.20" y1="290.30" x2="45.40" y2="290.30" stroke="#8f8f8f" stroke-width="1.1"/>
<text x="38.20" y="294.40" font-size="12" font-weight="bold" font-style="normal" text-anchor="end">0</text>
<line x1="42.20" y1="320.30" x2="45.40" y2="320.30" stroke="#8f8f8f" stroke-width="1.1"/>
<text x="38.20" y="324.40" font-size="12" font-weight="bold" font-style="normal" text-anchor="end">-10</text>
<text x="42.50" y="335.60" font-size="12" font-weight="bold" font-style="normal" text-anchor="middle">0</text>
<line x1="83.94" y1="320.30" x2="83.94" y2="317.30" stroke="#8f8f8f" stroke-width="1.1"/>
<text x="83.94" y="335.60" font-size="12" font-weight="bold" font-style="normal" text-anchor="middle">1</text>
<line x1="125.38" y1="320.30" x2="125.38" y2="317.30" stroke="#8f8f8f" stroke-width="1.1"/>
<text x="125.38" y="335.60" font-size="12" font-weight="bold" font-style="normal" text-anchor="middle">2</text>
<line x1="166.82" y1="320.30" x2="166.82" y2="317.30" stroke="#8f8f8f" stroke-width="1.1"/>
<text x="166.82" y="335.60" font-size="12" font-weight="bold" font-style="normal" text-anchor="middle">3</text>
<line x1="208.26" y1="320.30" x2="208.26" y2="317.30" stroke="#8f8f8f" stroke-width="1.1"/>
<text x="208.26" y="335.60" font-size="12" font-weight="bold" font-style="normal" text-anchor="middle">4</text>
<line x1="249.70" y1="320.30" x2="249.70" y2="317.30" stroke="#8f8f8f" stroke-width="1.1"/>
<text x="249.70" y="335.60" font-size="12" font-weight="bold" font-style="normal" text-anchor="middle">5</text>
<line x1="291.14" y1="320.30" x2="291.14" y2="317.30" stroke="#8f8f8f" stroke-width="1.1"/>
<text x="291.14" y="335.60" font-size="12" font-weight="bold" font-style="normal" text-anchor="middle">6</text>
<line x1="332.58" y1="320.30" x2="332.58" y2="317.30" stroke="#8f8f8f" stroke-width="1.1"/>
<text x="332.58" y="335.60" font-size="12" font-weight="bold" font-style="normal" text-anchor="middle">7</text>
<text transform="translate(187.54,351.50) scale(1,1.05)" font-size="13.45" font-weight="bold" text-anchor="middle">Prediction Duration (day)</text>
<text transform="translate(187.54,366.50) scale(1,1.05)" font-size="13.45" font-weight="bold" text-anchor="middle">(c) Residual error of Min. P<tspan font-size="11" dy="6.0">ML</tspan></text>
<polyline points="42.50,289.70 44.23,289.60 45.95,289.50 47.68,289.40 49.70,289.29 51.42,289.19 53.15,289.09 54.88,288.99 56.89,288.87 58.62,288.77 60.35,288.66 62.36,288.54 64.09,288.43 65.82,288.31 67.55,288.19 69.56,288.05 71.29,287.92 73.02,287.79 75.03,287.63 76.76,287.50 78.49,287.36 80.21,287.23 82.23,287.08 83.95,286.95 85.68,286.83 87.70,286.70 89.42,286.59 91.15,286.49 92.88,286.41 94.89,286.32 96.62,286.26 98.35,286.22 100.36,286.19 102.09,286.18 103.82,286.18 105.55,286.21 107.56,286.26 109.29,286.32 111.02,286.39 113.03,286.49 114.76,286.59 116.49,286.70 118.21,286.82 120.23,286.96 121.96,287.08 123.68,287.21 125.70,287.35 127.43,287.48 129.15,287.60 130.88,287.71 132.89,287.84 134.62,287.95 136.35,288.06 138.36,288.19 140.09,288.30 141.82,288.41 143.55,288.52 145.56,288.65 147.29,288.76 149.02,288.86 150.74,288.96 152.76,289.07 154.49,289.16 156.21,289.23 158.23,289.31 159.96,289.36 161.68,289.40 163.41,289.43 165.43,289.46 167.15,289.47 168.88,289.47 170.90,289.47 172.62,289.47 174.35,289.47 176.08,289.46 178.09,289.45 179.82,289.44 181.55,289.43 183.56,289.42 185.29,289.41 187.02,289.40 188.74,289.38 190.76,289.36 192.49,289.34 194.21,289.32 196.23,289.30 197.96,289.27 199.68,289.24 201.41,289.21 203.43,289.17 205.15,289.13 206.88,289.10 208.90,289.05 210.62,289.01 212.35,288.97 214.08,288.92 216.09,288.87 217.82,288.82 219.55,288.77 221.56,288.72 223.29,288.66 225.02,288.61 226.74,288.56 228.76,288.49 230.49,288.42 232.21,288.35 234.23,288.27 235.96,288.19 237.68,288.11 239.41,288.02 241.43,287.93 243.15,287.86 244.88,287.79 246.61,287.72 248.62,287.66 250.35,287.61 252.08,287.57 254.09,287.53 255.82,287.50 257.55,287.47 259.27,287.44 261.29,287.41 263.02,287.39 264.74,287.37 266.76,287.35 268.49,287.34 270.21,287.33 271.94,287.33 273.96,287.33 275.68,287.34 277.41,287.36 279.43,287.39 281.15,287.42 282.88,287.45 284.61,287.48 286.62,287.51 288.35,287.53 290.08,287.55 292.09,287.55 293.82,287.54 295.55,287.52 297.28,287.49 299.29,287.45 301.02,287.40 302.74,287.35 304.76,287.28 306.49,287.21 308.21,287.14 309.94,287.06 311.96,286.96 313.68,286.87 315.41,286.76 317.43,286.63 319.15,286.50 320.88,286.36 322.61,286.21 324.62,286.03 326.35,285.87 328.08,285.70 330.09,285.49" fill="none" stroke="#e0306a" stroke-width="1.6" stroke-linejoin="round" stroke-linecap="butt"/>
<polyline points="42.50,307.67 44.23,307.53 45.95,307.39 47.68,307.23 49.70,307.02 51.42,306.83 53.15,306.62 54.88,306.39 56.89,306.11 58.62,305.84 60.35,305.56 62.36,305.19 64.09,304.85 65.82,304.49 67.55,304.10 69.56,303.62 71.29,303.19 73.02,302.75 75.03,302.23 76.76,301.79 78.49,301.35 80.21,300.92 82.23,300.41 83.95,299.98 85.68,299.55 87.70,299.04 89.42,298.60 91.15,298.17 92.88,297.74 94.89,297.26 96.62,296.88 98.35,296.52 100.36,296.15 102.09,295.89 103.82,295.68 105.55,295.52 107.56,295.43 109.29,295.42 111.02,295.48 113.03,295.64 114.76,295.85 116.49,296.11 118.21,296.42 120.23,296.84 121.96,297.23 123.68,297.64 125.70,298.13 127.43,298.56 129.15,298.99 130.88,299.42 132.89,299.90 134.62,300.32 136.35,300.73 138.36,301.22 140.09,301.65 141.82,302.09 143.55,302.53 145.56,303.06 147.29,303.51 149.02,303.95 150.74,304.39 152.76,304.88 154.49,305.28 156.21,305.65 158.23,306.04 159.96,306.34 161.68,306.60 163.41,306.82 165.43,307.00 167.15,307.10 168.88,307.14 170.90,307.13 172.62,307.05 174.35,306.92 176.08,306.75 178.09,306.50 179.82,306.24 181.55,305.96 183.56,305.61 185.29,305.29 187.02,304.95 188.74,304.61 190.76,304.19 192.49,303.82 194.21,303.43 196.23,302.96 197.96,302.54 199.68,302.11 201.41,301.67 203.43,301.15 205.15,300.70 206.88,300.25 208.90,299.73 210.62,299.28 212.35,298.83 214.08,298.39 216.09,297.88 217.82,297.47 219.55,297.07 221.56,296.65 223.29,296.32 225.02,296.03 226.74,295.78 228.76,295.52 230.49,295.33 232.21,295.16 234.23,294.97 235.96,294.81 237.68,294.65 239.41,294.49 241.43,294.29 243.15,294.10 244.88,293.90 246.61,293.68 248.62,293.41 250.35,293.14 252.08,292.85 254.09,292.48 255.82,292.14 257.55,291.77 259.27,291.38 261.29,290.89 263.02,290.46 264.74,290.01 266.76,289.46 268.49,288.96 270.21,288.45 271.94,287.90 273.96,287.24 275.68,286.63 277.41,286.01 279.43,285.24 281.15,284.57 282.88,283.87 284.61,283.16 286.62,282.33 288.35,281.60 290.08,280.85 292.09,279.98 293.82,279.22 295.55,278.46 297.28,277.71 299.29,276.87 301.02,276.20 302.74,275.58 304.76,274.94 306.49,274.47 308.21,274.08 309.94,273.74 311.96,273.41 313.68,273.17 315.41,272.96 317.43,272.75 319.15,272.60 320.88,272.46 322.61,272.34 324.62,272.23 326.35,272.15 328.08,272.09 330.09,272.04" fill="none" stroke="#3a60d8" stroke-width="1.6" stroke-linejoin="round" stroke-linecap="butt"/>
<line x1="50.60" y1="271.60" x2="70.60" y2="271.60" stroke="#e0306a" stroke-width="1.7"/>
<text x="72.30" y="275.80" font-size="12.8" font-weight="bold" font-style="normal" text-anchor="start">e</text>
<text x="77.50" y="270.00" font-size="10.3" font-weight="bold" font-style="normal" text-anchor="start">gap</text>
<text x="95.70" y="275.60" font-size="13.2" font-weight="bold" font-style="normal" text-anchor="start">-</text>
<text x="102.90" y="275.80" font-size="12.8" font-weight="bold" font-style="normal" text-anchor="start">e</text>
<text x="108.40" y="270.00" font-size="10.3" font-weight="bold" font-style="normal" text-anchor="start">gap</text>
<text x="108.80" y="281.60" font-size="10.3" font-weight="bold" font-style="normal" text-anchor="start">RF</text>
<line x1="128.20" y1="271.60" x2="148.20" y2="271.60" stroke="#3a60d8" stroke-width="1.7"/>
<text x="149.90" y="275.80" font-size="12.8" font-weight="bold" font-style="normal" text-anchor="start">e</text>
<text x="155.10" y="270.00" font-size="10.3" font-weight="bold" font-style="normal" text-anchor="start">gap</text>
<text x="173.30" y="275.60" font-size="13.2" font-weight="bold" font-style="normal" text-anchor="start">-</text>
<text x="180.50" y="275.80" font-size="12.8" font-weight="bold" font-style="normal" text-anchor="start">e</text>
<text x="186.00" y="270.00" font-size="10.3" font-weight="bold" font-style="normal" text-anchor="start">gap</text>
<text x="186.40" y="281.60" font-size="10.3" font-weight="bold" font-style="normal" text-anchor="start">BT</text>
<text transform="translate(17.30,290.60) rotate(-90)" font-size="13.45" font-weight="bold" text-anchor="middle">Residual (km)</text>
<line x1="424.20" y1="259.90" x2="424.20" y2="320.40" stroke="#8f8f8f" stroke-width="1.1"/>
<line x1="424.20" y1="320.20" x2="714.88" y2="320.20" stroke="#8f8f8f" stroke-width="1.1"/>
<line x1="424.20" y1="260.30" x2="427.40" y2="260.30" stroke="#8f8f8f" stroke-width="1.1"/>
<text x="420.20" y="264.40" font-size="12" font-weight="bold" font-style="normal" text-anchor="end">0</text>
<line x1="424.20" y1="280.30" x2="427.40" y2="280.30" stroke="#8f8f8f" stroke-width="1.1"/>
<text x="420.20" y="284.40" font-size="12" font-weight="bold" font-style="normal" text-anchor="end">-5</text>
<line x1="424.20" y1="300.20" x2="427.40" y2="300.20" stroke="#8f8f8f" stroke-width="1.1"/>
<text x="420.20" y="304.30" font-size="12" font-weight="bold" font-style="normal" text-anchor="end">-10</text>
<line x1="424.20" y1="320.20" x2="427.40" y2="320.20" stroke="#8f8f8f" stroke-width="1.1"/>
<text x="420.20" y="324.30" font-size="12" font-weight="bold" font-style="normal" text-anchor="end">-15</text>
<text x="424.50" y="335.50" font-size="12" font-weight="bold" font-style="normal" text-anchor="middle">0</text>
<line x1="465.94" y1="320.20" x2="465.94" y2="317.20" stroke="#8f8f8f" stroke-width="1.1"/>
<text x="465.94" y="335.50" font-size="12" font-weight="bold" font-style="normal" text-anchor="middle">1</text>
<line x1="507.38" y1="320.20" x2="507.38" y2="317.20" stroke="#8f8f8f" stroke-width="1.1"/>
<text x="507.38" y="335.50" font-size="12" font-weight="bold" font-style="normal" text-anchor="middle">2</text>
<line x1="548.82" y1="320.20" x2="548.82" y2="317.20" stroke="#8f8f8f" stroke-width="1.1"/>
<text x="548.82" y="335.50" font-size="12" font-weight="bold" font-style="normal" text-anchor="middle">3</text>
<line x1="590.26" y1="320.20" x2="590.26" y2="317.20" stroke="#8f8f8f" stroke-width="1.1"/>
<text x="590.26" y="335.50" font-size="12" font-weight="bold" font-style="normal" text-anchor="middle">4</text>
<line x1="631.70" y1="320.20" x2="631.70" y2="317.20" stroke="#8f8f8f" stroke-width="1.1"/>
<text x="631.70" y="335.50" font-size="12" font-weight="bold" font-style="normal" text-anchor="middle">5</text>
<line x1="673.14" y1="320.20" x2="673.14" y2="317.20" stroke="#8f8f8f" stroke-width="1.1"/>
<text x="673.14" y="335.50" font-size="12" font-weight="bold" font-style="normal" text-anchor="middle">6</text>
<line x1="714.58" y1="320.20" x2="714.58" y2="317.20" stroke="#8f8f8f" stroke-width="1.1"/>
<text x="714.58" y="335.50" font-size="12" font-weight="bold" font-style="normal" text-anchor="middle">7</text>
<text transform="translate(569.54,351.40) scale(1,1.05)" font-size="13.45" font-weight="bold" text-anchor="middle">Prediction Duration (day)</text>
<text transform="translate(569.54,366.40) scale(1,1.05)" font-size="13.45" font-weight="bold" text-anchor="middle">(d) Residual error of  Max. P<tspan font-size="11" dy="6.0">ML</tspan></text>
<polyline points="424.50,265.23 426.23,265.10 427.95,264.97 429.68,264.84 431.70,264.69 433.42,264.57 435.15,264.45 436.88,264.33 438.89,264.20 440.62,264.09 442.35,263.99 444.36,263.88 446.09,263.79 447.82,263.71 449.55,263.63 451.56,263.54 453.29,263.47 455.02,263.40 457.03,263.33 458.76,263.27 460.49,263.21 462.21,263.16 464.23,263.10 465.95,263.05 467.68,263.01 469.70,262.96 471.42,262.92 473.15,262.89 474.88,262.86 476.89,262.83 478.62,262.81 480.35,262.79 482.36,262.79 484.09,262.79 485.82,262.80 487.55,262.82 489.56,262.86 491.29,262.90 493.02,262.95 495.03,263.03 496.76,263.10 498.49,263.19 500.21,263.29 502.23,263.42 503.96,263.55 505.68,263.69 507.70,263.87 509.43,264.04 511.15,264.23 512.88,264.43 514.89,264.70 516.62,264.94 518.35,265.20 520.36,265.54 522.09,265.84 523.82,266.17 525.55,266.52 527.56,266.94 529.29,267.33 531.02,267.73 532.74,268.15 534.76,268.66 536.49,269.11 538.21,269.56 540.23,270.10 541.96,270.57 543.68,271.04 545.41,271.51 547.43,272.06 549.15,272.54 550.88,273.02 552.90,273.59 554.62,274.09 556.35,274.60 558.08,275.13 560.09,275.76 561.82,276.31 563.55,276.88 565.56,277.56 567.29,278.15 569.02,278.76 570.74,279.37 572.76,280.10 574.49,280.73 576.21,281.36 578.23,282.10 579.96,282.74 581.68,283.38 583.41,284.03 585.43,284.79 587.15,285.44 588.88,286.09 590.90,286.86 592.62,287.53 594.35,288.20 596.08,288.86 598.09,289.64 599.82,290.31 601.55,290.96 603.56,291.72 605.29,292.35 607.02,292.97 608.74,293.57 610.76,294.25 612.49,294.81 614.21,295.35 616.23,295.95 617.96,296.45 619.68,296.91 621.41,297.35 623.43,297.83 625.15,298.21 626.88,298.55 628.61,298.85 630.62,299.17 632.35,299.40 634.08,299.59 636.09,299.76 637.82,299.86 639.55,299.92 641.27,299.94 643.29,299.90 645.02,299.81 646.74,299.67 648.76,299.44 650.49,299.19 652.21,298.88 653.94,298.52 655.96,298.03 657.68,297.56 659.41,297.04 661.43,296.38 663.15,295.77 664.88,295.13 666.61,294.47 668.62,293.67 670.35,292.96 672.08,292.26 674.09,291.43 675.82,290.72 677.55,290.02 679.28,289.34 681.29,288.55 683.02,287.89 684.74,287.25 686.76,286.53 688.49,285.94 690.21,285.37 691.94,284.82 693.96,284.22 695.68,283.73 697.41,283.26 699.43,282.75 701.15,282.34 702.88,281.95 704.61,281.58 706.62,281.18 708.35,280.85 710.08,280.54 712.09,280.20" fill="none" stroke="#e0306a" stroke-width="1.6" stroke-linejoin="round" stroke-linecap="butt"/>
<polyline points="424.50,286.89 426.23,286.65 427.95,286.42 429.68,286.19 431.70,285.92 433.42,285.69 435.15,285.47 436.88,285.24 438.89,284.99 440.62,284.78 442.35,284.57 444.36,284.32 446.09,284.12 447.82,283.92 449.55,283.72 451.56,283.49 453.29,283.29 455.02,283.09 457.03,282.85 458.76,282.64 460.49,282.43 462.21,282.23 464.23,282.00 465.95,281.80 467.68,281.63 469.70,281.44 471.42,281.30 473.15,281.19 474.88,281.11 476.89,281.07 478.62,281.07 480.35,281.12 482.36,281.23 484.09,281.39 485.82,281.60 487.55,281.86 489.56,282.25 491.29,282.67 493.02,283.17 495.03,283.87 496.76,284.58 498.49,285.37 500.21,286.23 502.23,287.32 503.96,288.31 505.68,289.32 507.70,290.53 509.43,291.59 511.15,292.67 512.88,293.76 514.89,295.07 516.62,296.20 518.35,297.35 520.36,298.70 522.09,299.85 523.82,300.98 525.55,302.09 527.56,303.34 529.29,304.39 531.02,305.40 532.74,306.38 534.76,307.49 536.49,308.42 538.21,309.33 540.23,310.35 541.96,311.19 543.68,311.99 545.41,312.74 547.43,313.55 549.15,314.18 550.88,314.74 552.90,315.33 554.62,315.77 556.35,316.17 558.08,316.52 560.09,316.89 561.82,317.17 563.55,317.41 565.56,317.64 567.29,317.79 569.02,317.89 570.74,317.95 572.76,317.95 574.49,317.89 576.21,317.80 578.23,317.64 579.96,317.46 581.68,317.27 583.41,317.06 585.43,316.81 587.15,316.59 588.88,316.37 590.90,316.12 592.62,315.92 594.35,315.73 596.08,315.56 598.09,315.40 599.82,315.31 601.55,315.27 603.56,315.30 605.29,315.38 607.02,315.51 608.74,315.68 610.76,315.92 612.49,316.14 614.21,316.38 616.23,316.65 617.96,316.89 619.68,317.12 621.41,317.35 623.43,317.61 625.15,317.82 626.88,318.03 628.61,318.22 630.62,318.43 632.35,318.60 634.08,318.75 636.09,318.91 637.82,319.03 639.55,319.12 641.27,319.18 643.29,319.21 645.02,319.19 646.74,319.13 648.76,319.01 650.49,318.86 652.21,318.67 653.94,318.44 655.96,318.14 657.68,317.86 659.41,317.56 661.43,317.19 663.15,316.86 664.88,316.53 666.61,316.20 668.62,315.82 670.35,315.49 672.08,315.17 674.09,314.80 675.82,314.48 677.55,314.16 679.28,313.84 681.29,313.46 683.02,313.14 684.74,312.84 686.76,312.50 688.49,312.23 690.21,311.98 691.94,311.76 693.96,311.54 695.68,311.38 697.41,311.23 699.43,311.09 701.15,310.98 702.88,310.89 704.61,310.81 706.62,310.73 708.35,310.67 710.08,310.63 712.09,310.59" fill="none" stroke="#3a60d8" stroke-width="1.6" stroke-linejoin="round" stroke-linecap="butt"/>
<line x1="557.00" y1="269.70" x2="577.00" y2="269.70" stroke="#e0306a" stroke-width="1.7"/>
<text x="578.70" y="273.90" font-size="12.8" font-weight="bold" font-style="normal" text-anchor="start">e</text>
<text x="583.90" y="268.10" font-size="10.3" font-weight="bold" font-style="normal" text-anchor="start">gap</text>
<text x="602.10" y="273.70" font-size="13.2" font-weight="bold" font-style="normal" text-anchor="start">-</text>
<text x="609.30" y="273.90" font-size="12.8" font-weight="bold" font-style="normal" text-anchor="start">e</text>
<text x="614.80" y="268.10" font-size="10.3" font-weight="bold" font-style="normal" text-anchor="start">gap</text>
<text x="615.20" y="279.70" font-size="10.3" font-weight="bold" font-style="normal" text-anchor="start">RF</text>
<line x1="634.80" y1="269.70" x2="654.80" y2="269.70" stroke="#3a60d8" stroke-width="1.7"/>
<text x="656.50" y="273.90" font-size="12.8" font-weight="bold" font-style="normal" text-anchor="start">e</text>
<text x="661.70" y="268.10" font-size="10.3" font-weight="bold" font-style="normal" text-anchor="start">gap</text>
<text x="679.90" y="273.70" font-size="13.2" font-weight="bold" font-style="normal" text-anchor="start">-</text>
<text x="687.10" y="273.90" font-size="12.8" font-weight="bold" font-style="normal" text-anchor="start">e</text>
<text x="692.60" y="268.10" font-size="10.3" font-weight="bold" font-style="normal" text-anchor="start">gap</text>
<text x="693.00" y="279.70" font-size="10.3" font-weight="bold" font-style="normal" text-anchor="start">BT</text>
<text transform="translate(399.50,290.70) rotate(-90)" font-size="13.45" font-weight="bold" text-anchor="middle">Residual (km)</text>
</svg>
</body></html>
